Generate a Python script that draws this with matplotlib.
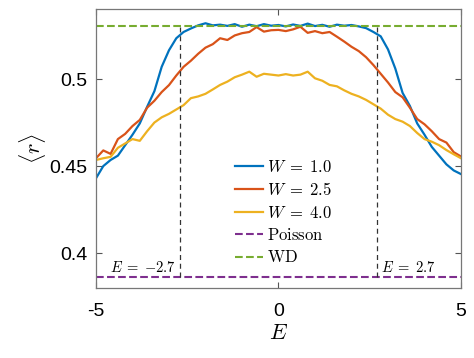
import matplotlib
matplotlib.use("Agg")
import matplotlib.pyplot as plt
import numpy as np

plt.rcParams['mathtext.fontset'] = 'cm'
plt.rcParams['font.family'] = ['Liberation Sans', 'DejaVu Sans']

# energy grid and mean gap ratio <r> for each disorder strength
E = np.linspace(-5, 5, 51)

r_w1 = [0.4430, 0.4500, 0.4535, 0.4560, 0.4620, 0.4680, 0.4745, 0.4840, 0.4930, 0.5070,
        0.5165, 0.5234, 0.5270, 0.5290, 0.5308, 0.5320, 0.5308, 0.5312, 0.5305, 0.5315,
        0.5300, 0.5312, 0.5303, 0.5315, 0.5306, 0.5310, 0.5302, 0.5313, 0.5305, 0.5318,
        0.5304, 0.5311, 0.5300, 0.5312, 0.5306, 0.5310, 0.5302, 0.5292, 0.5270, 0.5245,
        0.5170, 0.5060, 0.4920, 0.4845, 0.4745, 0.4680, 0.4610, 0.4560, 0.4510, 0.4475,
        0.4454]

r_w25 = [0.4545, 0.4590, 0.4570, 0.4655, 0.4685, 0.4730, 0.4765, 0.4835, 0.4875, 0.4925,
         0.4965, 0.5020, 0.5070, 0.5105, 0.5145, 0.5180, 0.5200, 0.5234, 0.5224, 0.5250,
         0.5263, 0.5270, 0.5298, 0.5272, 0.5280, 0.5282, 0.5275, 0.5285, 0.5300, 0.5265,
         0.5275, 0.5263, 0.5270, 0.5243, 0.5215, 0.5185, 0.5160, 0.5125, 0.5080, 0.5030,
         0.4980, 0.4925, 0.4895, 0.4835, 0.4770, 0.4740, 0.4700, 0.4655, 0.4635, 0.4580,
         0.4555]

r_w4 = [0.4535, 0.4545, 0.4553, 0.4605, 0.4630, 0.4655, 0.4645, 0.4700, 0.4750, 0.4780,
        0.4800, 0.4825, 0.4850, 0.4890, 0.4900, 0.4915, 0.4940, 0.4966, 0.4985, 0.5010,
        0.5025, 0.5042, 0.5013, 0.5030, 0.5025, 0.5020, 0.5028, 0.5020, 0.5025, 0.5042,
        0.5004, 0.4990, 0.4966, 0.4958, 0.4935, 0.4915, 0.4900, 0.4880, 0.4855, 0.4830,
        0.4795, 0.4770, 0.4755, 0.4730, 0.4690, 0.4655, 0.4640, 0.4620, 0.4592, 0.4568,
        0.4545]

r_poisson = 0.3863
r_wd = 0.5307
E_edge = 2.7

fig = plt.figure(figsize=(4.74, 3.58), dpi=100)
ax = fig.add_axes([0.2025, 0.1955, 0.7701, 0.7794])

ax.plot(E, r_w1, color='#0072BD', lw=1.6, label=r'$W\;=\;1.0$')
ax.plot(E, r_w25, color='#D95319', lw=1.6, label=r'$W\;=\;2.5$')
ax.plot(E, r_w4, color='#EDB120', lw=1.6, label=r'$W\;=\;4.0$')
ax.plot([-5, 5], [r_poisson, r_poisson], '--', color='#7E2F8E', lw=1.5, label=r'$\mathrm{Poisson}$')
ax.plot([-5, 5], [r_wd, r_wd], '--', color='#77AC30', lw=1.5, label=r'$\mathrm{WD}$')

for e in (-E_edge, E_edge):
    ax.plot([e, e], [r_poisson, r_wd], '--', color='#333333', lw=0.9, dashes=(4, 3))

ax.text(-E_edge - 0.1, 0.3875, r'$E\;=\;{-2.7}$', ha='right', va='bottom', fontsize=10.5)
ax.text(E_edge + 0.1, 0.3875, r'$E\;=\;2.7$', ha='left', va='bottom', fontsize=10.5)

ax.set_xlim(-5, 5)
ax.set_ylim(0.38, 0.5402)
ax.set_xticks([-5, 0, 5])
ax.set_xticklabels(['-5', '0', '5'])
ax.set_yticks([0.4, 0.45, 0.5])
ax.set_yticklabels(['0.4', '0.45', '0.5'])
ax.tick_params(direction='in', top=True, right=True, labelsize=14, length=4,
               color='#555555', width=0.8, pad=6)
ax.tick_params(axis='x', pad=11)
for s in ax.spines.values():
    s.set_color('#777777')
    s.set_linewidth(0.9)

ax.set_xlabel(r'$E$', fontsize=16, labelpad=2)
ax.set_ylabel(r'$\langle r\rangle$', fontsize=16, labelpad=1)

ax.legend(loc='upper left', bbox_to_anchor=(235 / 474, 1 - 159 / 358),
          bbox_transform=fig.transFigure, frameon=False, fontsize=12,
          borderpad=0, borderaxespad=0, handlelength=1.7, handletextpad=0.2,
          labelspacing=0.38)

fig.savefig('out.png', dpi=100)
